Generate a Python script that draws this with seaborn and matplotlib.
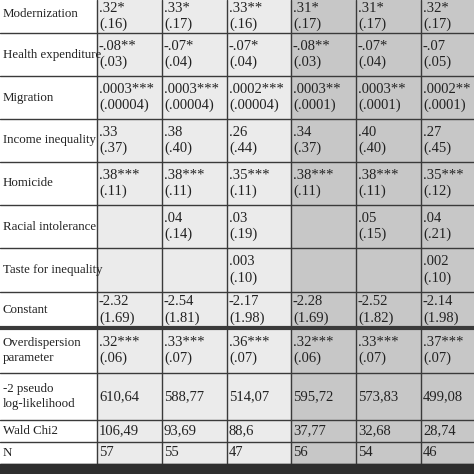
import matplotlib
matplotlib.use("Agg")
import matplotlib.pyplot as plt
from matplotlib.patches import Rectangle
import seaborn as sns

row_labels = ["Modernization", "Health expenditure", "Migration", "Income inequality",
              "Homicide", "Racial intolerance", "Taste for inequality", "Constant",
              "Overdispersion\nparameter", "-2 pseudo\nlog-likelihood", "Wald Chi2", "N"]

col1 = [".32*\n(.16)", "-.08**\n(.03)", ".0003***\n(.00004)", ".33\n(.37)", ".38***\n(.11)", "", "",
        "-2.32\n(1.69)", ".32***\n(.06)", "610,64", "106,49", "57"]
col2 = [".33*\n(.17)", "-.07*\n(.04)", ".0003***\n(.00004)", ".38\n(.40)", ".38***\n(.11)", ".04\n(.14)", "",
        "-2.54\n(1.81)", ".33***\n(.07)", "588,77", "93,69", "55"]
col3 = [".33**\n(.16)", "-.07*\n(.04)", ".0002***\n(.00004)", ".26\n(.44)", ".35***\n(.11)", ".03\n(.19)",
        ".003\n(.10)", "-2.17\n(1.98)", ".36***\n(.07)", "514,07", "88,6", "47"]
col4 = [".31*\n(.17)", "-.08**\n(.03)", ".0003**\n(.0001)", ".34\n(.37)", ".38***\n(.11)", "", "",
        "-2.28\n(1.69)", ".32***\n(.06)", "595,72", "37,77", "56"]
col5 = [".31*\n(.17)", "-.07*\n(.04)", ".0003**\n(.0001)", ".40\n(.40)", ".38***\n(.11)", ".05\n(.15)", "",
        "-2.52\n(1.82)", ".33***\n(.07)", "573,83", "32,68", "54"]
col6 = [".32*\n(.17)", "-.07\n(.05)", ".0002**\n(.0001)", ".27\n(.45)", ".35***\n(.12)", ".04\n(.21)",
        ".002\n(.10)", "-2.14\n(1.98)", ".37***\n(.07)", "499,08", "28,74", "46"]
columns = [col1, col2, col3, col4, col5, col6]

row_edges = [-10, 33, 76, 119, 162, 205, 248, 292, 328, 373, 420, 442, 464]
col_edges = [0, 97, 162, 227, 291, 356, 421, 486]
shades = ["#ebebeb", "#ebebeb", "#ebebeb", "#c7c7c7", "#c7c7c7", "#c7c7c7"]

sns.set_style("white")
plt.rcParams["font.family"] = ["Liberation Serif", "DejaVu Serif"]

fig = plt.figure(figsize=(4.74, 4.74), dpi=100)
ax = fig.add_axes([0, 0, 1, 1])
ax.set_xlim(0, 474)
ax.set_ylim(474, 0)
ax.axis("off")

for j, shade in enumerate(shades):
    ax.add_patch(Rectangle((col_edges[j + 1], row_edges[0]), col_edges[j + 2] - col_edges[j + 1],
                           row_edges[-1] - row_edges[0], color=shade, zorder=0))
ax.add_patch(Rectangle((0, row_edges[-1]), 474, 12, color="#2e2e2e", zorder=3))

for y in row_edges[1:]:
    ax.axhline(y, color="#3a3a3a", lw=3 if y == 328 else 1, zorder=2)
for x in col_edges[1:-1]:
    ax.axvline(x, color="#3a3a3a", lw=1, zorder=2)

for i, lab in enumerate(row_labels):
    mid = (row_edges[i] + row_edges[i + 1]) / 2
    if i == 0:
        mid += 2
    ax.text(3, mid, lab, va="center", ha="left", fontsize=9.3, color="#222", linespacing=1.3)
    for j, col in enumerate(columns):
        if col[i]:
            ax.text(col_edges[j + 1] + 2, mid + (3 if i == 0 else 0), col[i], va="center", ha="left",
                    fontsize=10.5, color="#222", linespacing=1.3)

fig.savefig("out.png", dpi=100)
